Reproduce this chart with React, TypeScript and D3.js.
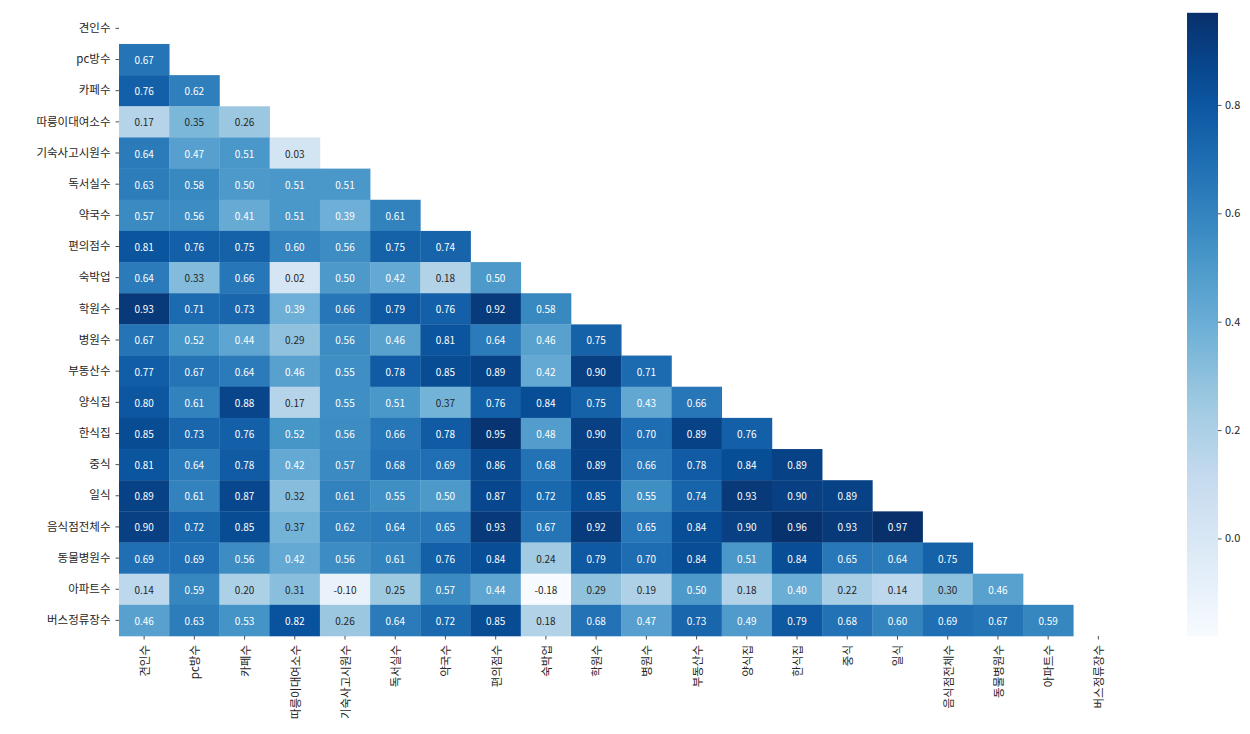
import React, { useEffect, useRef } from "react";
import * as d3 from "d3";

const variables = [
  "견인수", "pc방수", "카페수", "따릉이대여소수", "기숙사고시원수", "독서실수", "약국수",
  "편의점수", "숙박업", "학원수", "병원수", "부동산수", "양식집", "한식집", "중식", "일식",
  "음식점전체수", "동물병원수", "아파트수", "버스정류장수",
];

// lower triangle rows (row i has i values, for columns 0..i-1)
const corrRows: number[][] = [
  [],
  [0.67],
  [0.76, 0.62],
  [0.17, 0.35, 0.26],
  [0.64, 0.47, 0.51, 0.03],
  [0.63, 0.58, 0.50, 0.51, 0.51],
  [0.57, 0.56, 0.41, 0.51, 0.39, 0.61],
  [0.81, 0.76, 0.75, 0.60, 0.56, 0.75, 0.74],
  [0.64, 0.33, 0.66, 0.02, 0.50, 0.42, 0.18, 0.50],
  [0.93, 0.71, 0.73, 0.39, 0.66, 0.79, 0.76, 0.92, 0.58],
  [0.67, 0.52, 0.44, 0.29, 0.56, 0.46, 0.81, 0.64, 0.46, 0.75],
  [0.77, 0.67, 0.64, 0.46, 0.55, 0.78, 0.85, 0.89, 0.42, 0.90, 0.71],
  [0.80, 0.61, 0.88, 0.17, 0.55, 0.51, 0.37, 0.76, 0.84, 0.75, 0.43, 0.66],
  [0.85, 0.73, 0.76, 0.52, 0.56, 0.66, 0.78, 0.95, 0.48, 0.90, 0.70, 0.89, 0.76],
  [0.81, 0.64, 0.78, 0.42, 0.57, 0.68, 0.69, 0.86, 0.68, 0.89, 0.66, 0.78, 0.84, 0.89],
  [0.89, 0.61, 0.87, 0.32, 0.61, 0.55, 0.50, 0.87, 0.72, 0.85, 0.55, 0.74, 0.93, 0.90, 0.89],
  [0.90, 0.72, 0.85, 0.37, 0.62, 0.64, 0.65, 0.93, 0.67, 0.92, 0.65, 0.84, 0.90, 0.96, 0.93, 0.97],
  [0.69, 0.69, 0.56, 0.42, 0.56, 0.61, 0.76, 0.84, 0.24, 0.79, 0.70, 0.84, 0.51, 0.84, 0.65, 0.64, 0.75],
  [0.14, 0.59, 0.20, 0.31, -0.10, 0.25, 0.57, 0.44, -0.18, 0.29, 0.19, 0.50, 0.18, 0.40, 0.22, 0.14, 0.30, 0.46],
  [0.46, 0.63, 0.53, 0.82, 0.26, 0.64, 0.72, 0.85, 0.18, 0.68, 0.47, 0.73, 0.49, 0.79, 0.68, 0.60, 0.69, 0.67, 0.59],
];

const colorbarTicks = [0.0, 0.2, 0.4, 0.6, 0.8];

const bluesStops = ["#f7fbff", "#deebf7", "#c6dbef", "#9ecae1", "#6baed6", "#4292c6", "#2171b5", "#08519c", "#08306b"];

const FONT = "'Noto Sans CJK KR', 'Noto Sans', sans-serif";

function luminance(c: string) {
  const rgb = d3.rgb(c);
  const lin = (v: number) => {
    const s = v / 255;
    return s <= 0.03928 ? s / 12.92 : Math.pow((s + 0.055) / 1.055, 2.4);
  };
  return 0.2126 * lin(rgb.r) + 0.7152 * lin(rgb.g) + 0.0722 * lin(rgb.b);
}

export default function App() {
  const ref = useRef<SVGSVGElement>(null);

  useEffect(() => {
    const svg = d3.select(ref.current);
    svg.selectAll("*").remove();

    const cells: { r: number; c: number; v: number }[] = [];
    corrRows.forEach((row, r) => row.forEach((v, c) => cells.push({ r, c, v })));
    const vmin = d3.min(cells, (d) => d.v) as number;
    const vmax = d3.max(cells, (d) => d.v) as number;

    const t = d3.scaleLinear().domain([vmin, vmax]).range([0, 1]).clamp(true);
    const blues = d3
      .scaleLinear<string>()
      .domain(bluesStops.map((_, i) => i / (bluesStops.length - 1)))
      .range(bluesStops)
      .interpolate(d3.interpolateRgb);
    const color = (v: number) => blues(t(v));

    const left = 119, right = 1123.5, top = 12.8, bottom = 636;
    const x = d3.scaleBand<string>().domain(variables).range([left, right]);
    const y = d3.scaleBand<string>().domain(variables).range([top, bottom]);

    const g = svg.append("g");
    g.selectAll("rect.cell")
      .data(cells)
      .join("rect")
      .attr("x", (d) => x(variables[d.c])!)
      .attr("y", (d) => y(variables[d.r])!)
      .attr("width", x.bandwidth() + 0.3)
      .attr("height", y.bandwidth() + 0.3)
      .attr("fill", (d) => color(d.v));

    g.selectAll("text.annot")
      .data(cells)
      .join("text")
      .attr("x", (d) => x(variables[d.c])! + x.bandwidth() / 2)
      .attr("y", (d) => y(variables[d.r])! + y.bandwidth() / 2)
      .attr("text-anchor", "middle")
      .attr("dominant-baseline", "central")
      .attr("font-family", FONT)
      .attr("font-size", 10)
      .attr("fill", (d) => (luminance(color(d.v)) > 0.408 ? "#262626" : "#ffffff"))
      .text((d) => d.v.toFixed(2));

    // y axis
    const yAxis = svg
      .append("g")
      .attr("transform", `translate(${left},0)`)
      .call(d3.axisLeft(y).tickSize(3.5).tickPadding(5));
    yAxis.select(".domain").remove();
    yAxis.selectAll("line").attr("stroke", "#262626").attr("stroke-width", 0.8);
    yAxis.selectAll("text").attr("font-family", FONT).attr("font-size", 11.5).attr("fill", "#262626");

    // x axis
    const xAxis = svg
      .append("g")
      .attr("transform", `translate(0,${bottom})`)
      .call(d3.axisBottom(x).tickSize(3.5).tickPadding(3.5));
    xAxis.select(".domain").remove();
    xAxis.selectAll("line").attr("stroke", "#262626").attr("stroke-width", 0.8);
    xAxis
      .selectAll("text")
      .attr("font-family", FONT)
      .attr("font-size", 11.5)
      .attr("fill", "#262626")
      .attr("dy", null)
      .attr("y", 0)
      .attr("x", 0)
      .attr("transform", "translate(0,9) rotate(-90)")
      .attr("text-anchor", "end")
      .attr("dominant-baseline", "central");

    // colorbar
    const cbX = 1187, cbW = 31;
    const cbScale = d3.scaleLinear().domain([vmin, vmax]).range([bottom, top]);
    const defs = svg.append("defs");
    const grad = defs
      .append("linearGradient")
      .attr("id", "cbgrad")
      .attr("x1", 0).attr("y1", 1).attr("x2", 0).attr("y2", 0);
    d3.range(0, 1.0001, 0.05).forEach((s) => {
      grad.append("stop").attr("offset", s).attr("stop-color", blues(s));
    });
    svg
      .append("rect")
      .attr("x", cbX)
      .attr("y", top)
      .attr("width", cbW)
      .attr("height", bottom - top)
      .attr("fill", "url(#cbgrad)");
    const cbAxis = svg
      .append("g")
      .attr("transform", `translate(${cbX + cbW},0)`)
      .call(d3.axisRight(cbScale).tickValues(colorbarTicks).tickFormat(d3.format(".1f")).tickSize(3.5).tickPadding(3.5));
    cbAxis.select(".domain").remove();
    cbAxis.selectAll("line").attr("stroke", "#262626").attr("stroke-width", 0.8);
    cbAxis.selectAll("text").attr("font-family", FONT).attr("font-size", 11).attr("fill", "#262626");
  }, []);

  return (
    <svg
      ref={ref}
      width={1250}
      height={734}
      style={{ position: "absolute", left: 0, top: 0, background: "#fff" }}
    />
  );
}
